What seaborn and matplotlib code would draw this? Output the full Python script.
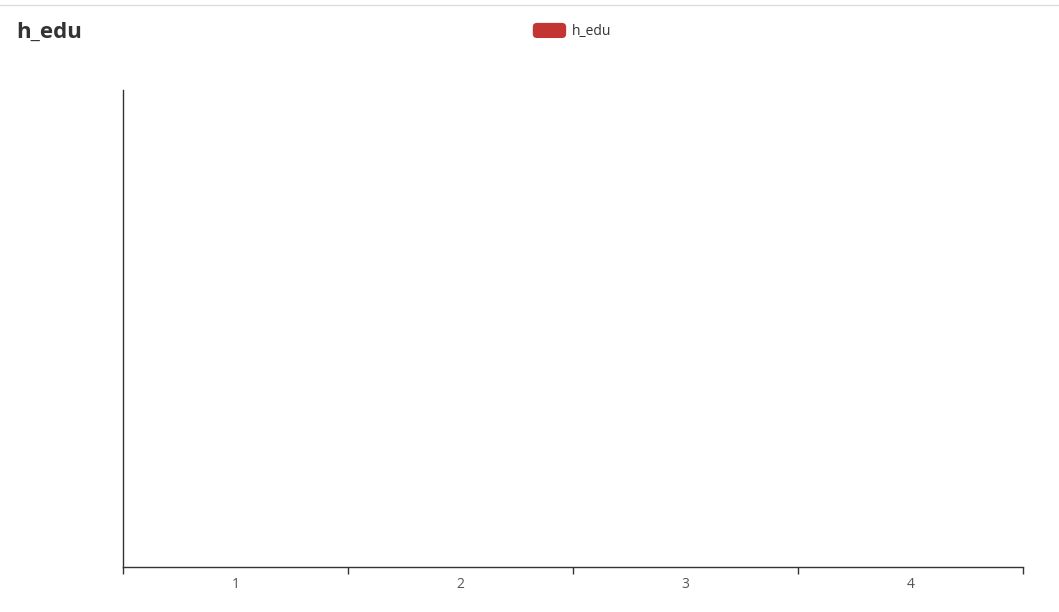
import numpy as np
import pandas as pd
import matplotlib
matplotlib.use("Agg")
import matplotlib.pyplot as plt
import seaborn as sns
from matplotlib.lines import Line2D
from matplotlib.patches import Patch, FancyBboxPatch
from matplotlib.legend_handler import HandlerPatch

categorias = ["1", "2", "3", "4"]
valores = [np.nan, np.nan, np.nan, np.nan]
serie = "h_edu"
color = "#c23531"

sns.set_theme(style="white")
plt.rcParams["font.family"] = ["Open Sans", "DejaVu Sans"]

df = pd.DataFrame({"cat": categorias, "val": valores})

fig = plt.figure(figsize=(10.59, 6.12), dpi=100)
ax = fig.add_axes([123 / 1059, 1 - 567 / 612, 900 / 1059, 477 / 612])

sns.barplot(data=df, x="cat", y="val", order=categorias, color=color, ax=ax,
            errorbar=None, width=0.6)

ax.set_xlim(-0.5, len(categorias) - 0.5)
ax.set_ylim(0, 1)
ax.set_xlabel("")
ax.set_ylabel("")

# ticks en los limites de cada categoria, etiquetas centradas
ax.set_xticks(np.arange(-0.5, len(categorias)), labels=[""] * (len(categorias) + 1))
ax.set_xticks(np.arange(len(categorias)), labels=categorias, minor=True)
ax.tick_params(axis="x", which="major", length=5, width=1, color="#333333", direction="out", bottom=True)
ax.tick_params(axis="x", which="minor", length=0, pad=7, labelsize=10, labelcolor="#555555")
ax.set_yticks([])

for lado in ["top", "right"]:
    ax.spines[lado].set_visible(False)
for lado in ["left", "bottom"]:
    ax.spines[lado].set_color("#333333")
    ax.spines[lado].set_linewidth(1)

# linea gris superior
fig.add_artist(Line2D([0, 1], [1 - 5 / 612, 1 - 5 / 612], transform=fig.transFigure,
                      color="#dddddd", lw=1))

fig.text(16 / 1059, 1 - 32 / 612, serie, fontsize=16, fontweight="bold",
         color="#333333", va="center", ha="left")


class HandlerRedondo(HandlerPatch):
    def create_artists(self, legend, orig_handle, xdescent, ydescent, width, height, fontsize, trans):
        p = FancyBboxPatch((-xdescent, -ydescent), width, height,
                           boxstyle="round,pad=0,rounding_size=3",
                           facecolor=orig_handle.get_facecolor(), edgecolor="none",
                           transform=trans)
        return [p]


handle = Patch(facecolor=color, label=serie)
fig.legend(handles=[handle], loc="center", bbox_to_anchor=(572 / 1059, 1 - 31 / 612),
           frameon=False, fontsize=10, labelcolor="#333333",
           handlelength=2.4, handleheight=1.3, handletextpad=0.4,
           handler_map={Patch: HandlerRedondo()})

fig.savefig("out.png", dpi=100)
